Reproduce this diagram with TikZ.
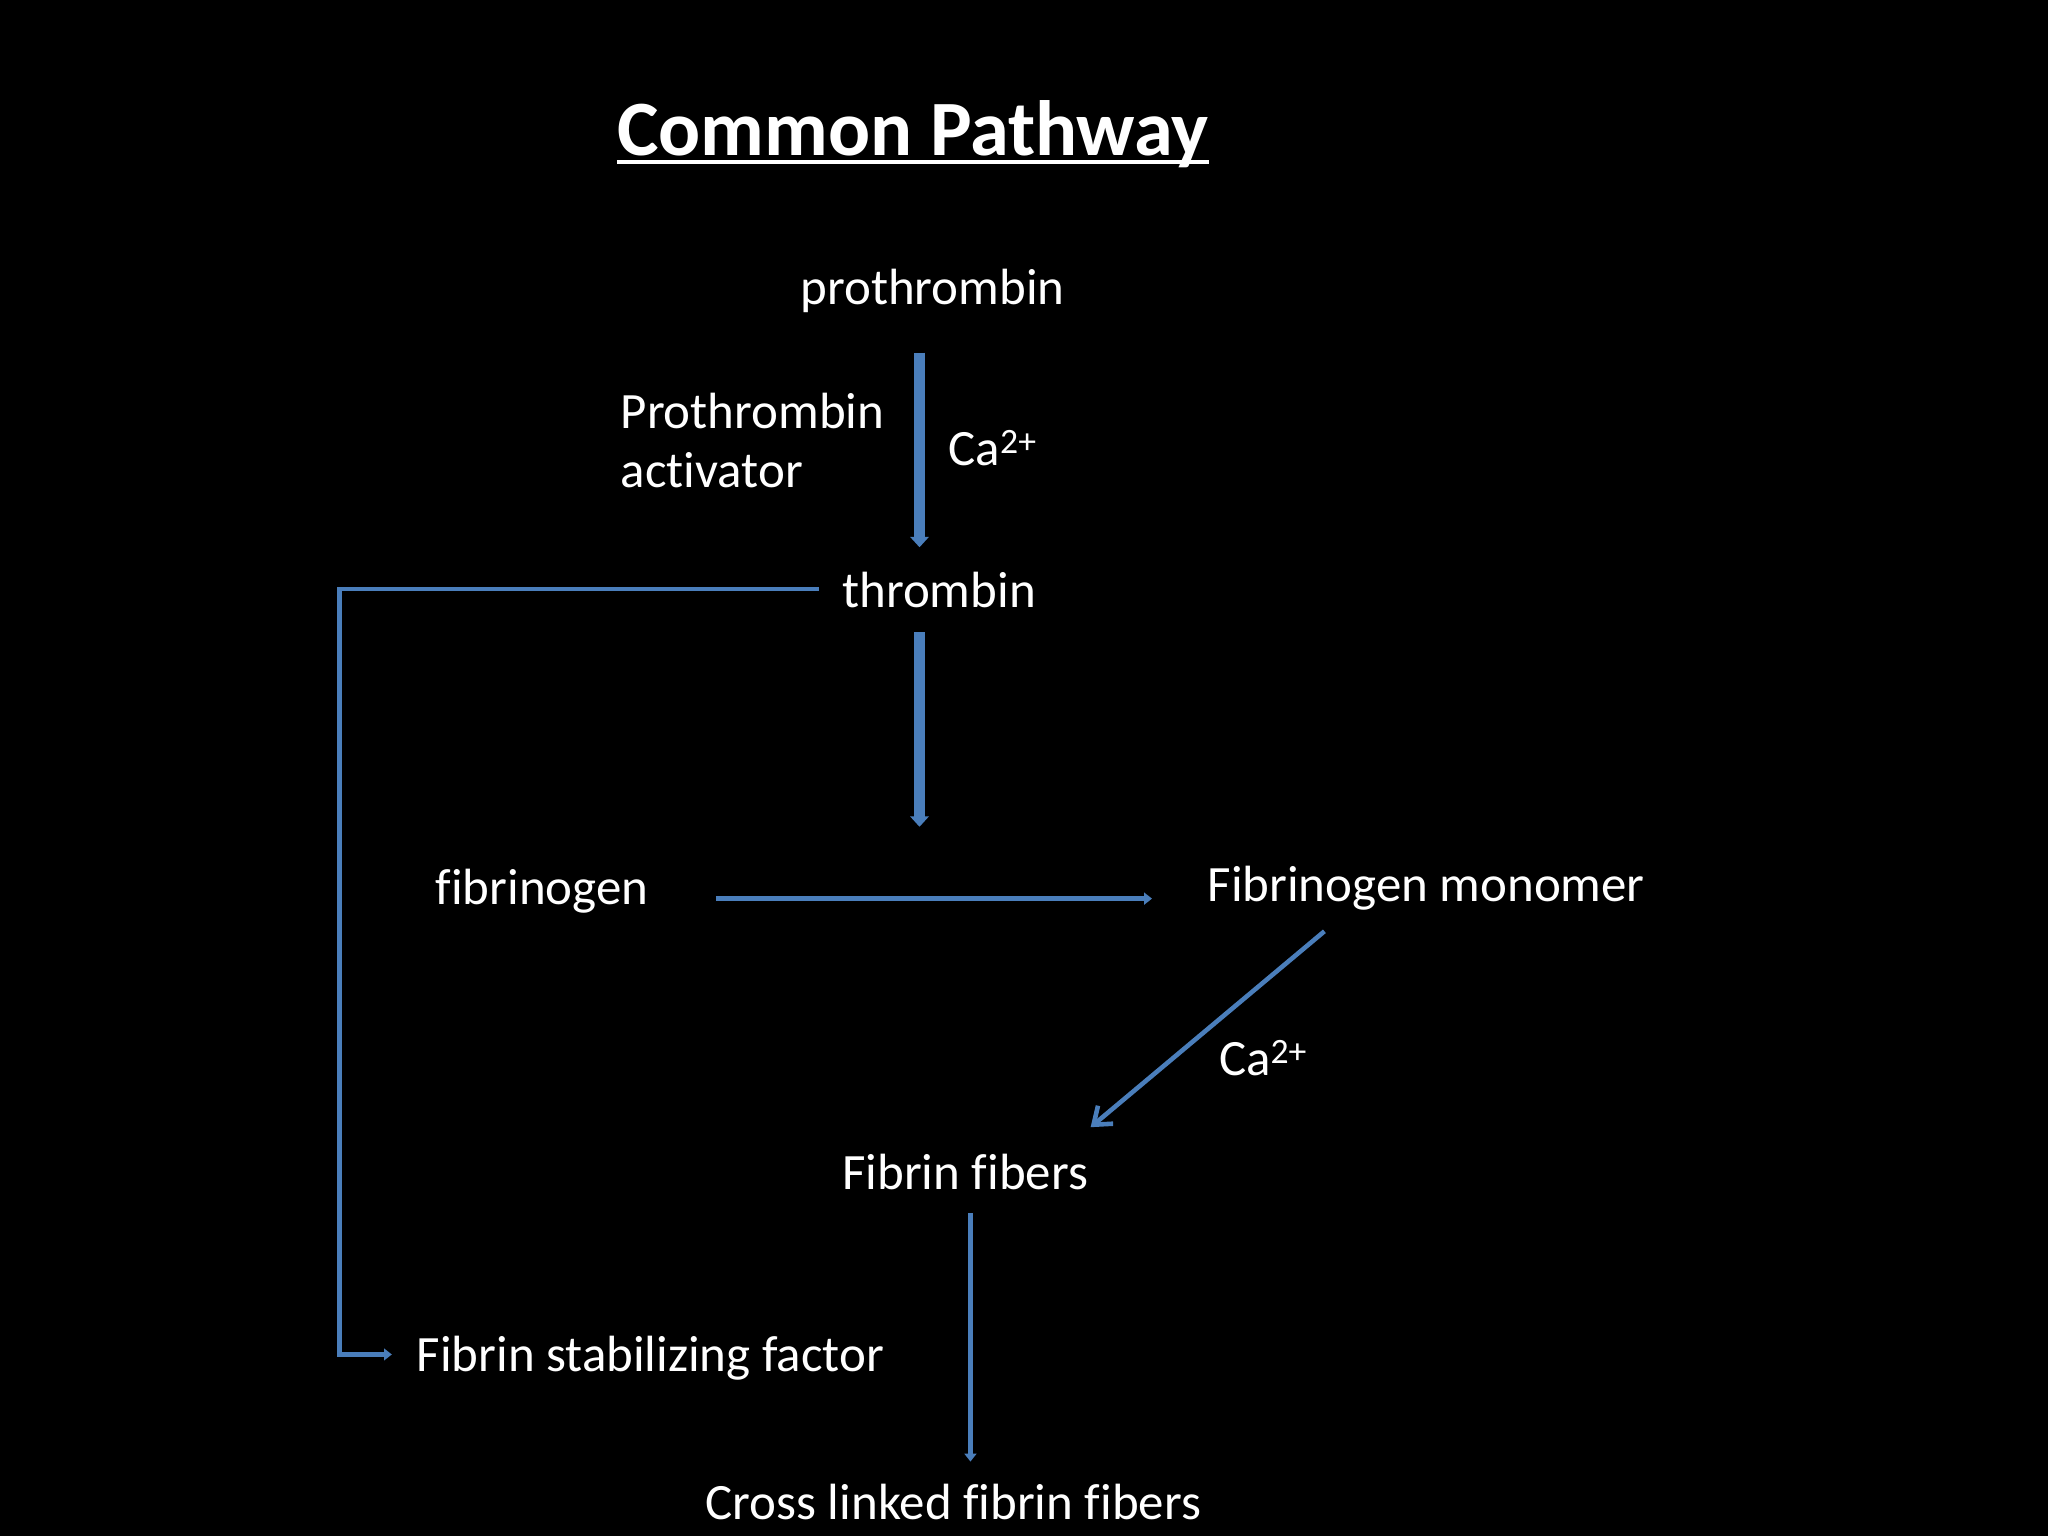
\documentclass[tikz,border=0pt]{standalone}
\usepackage{fontspec}
\setmainfont[Ligatures=NoCommon]{Carlito}
\usetikzlibrary{arrows.meta}
\definecolor{ab}{HTML}{4A7EBB}
\begin{document}
\begin{tikzpicture}[x=1pt,y=-1pt,
  lbl/.style={text=white,font=\fontsize{39}{44}\selectfont,inner sep=0pt},
  thin/.style={draw=ab,line width=3.5pt,-{Triangle[length=6pt,width=9pt]}},
  fat/.style={draw=ab,line width=8pt,-{Triangle[length=8pt,width=14pt]}}]
\fill[black] (0,0) rectangle (1568,1176);
\useasboundingbox (0,0) rectangle (1568,1176);
\node[lbl,font=\bfseries\fontsize{60}{68}\selectfont] (title) at (699,103) {Common Pathway};
\draw[white,line width=3pt] (title.base west) ++(0,5) -- ([yshift=-5pt]title.base east);
\node[lbl] (pro) at (714,223) {prothrombin};
\node[lbl,align=left,anchor=west] (pa) at (475,337) {Prothrombin\\[1pt]activator};
\node[lbl] (ca1) at (760,343) {Ca\textsuperscript{2+}};
\node[lbl] (thr) at (719,452) {thrombin};
\node[lbl] (fbg) at (415,682) {fibrinogen};
\node[lbl] (mon) at (1092,680) {Fibrinogen monomer};
\node[lbl] (ca2) at (967,810) {Ca\textsuperscript{2+}};
\node[lbl] (ff) at (739,897) {Fibrin fibers};
\node[lbl] (fsf) at (498,1040) {Fibrin stabilizing factor};
\node[lbl] (cl) at (730,1150) {Cross linked fibrin fibers};
\coordinate (a1) at (704,270); \coordinate (a2) at (704,419);
\coordinate (b1) at (704,484); \coordinate (b2) at (704,633);
\coordinate (t1) at (627,451); \coordinate (fs) at (300,1037);
\coordinate (f1) at (548,688); \coordinate (f2) at (882,688);
\coordinate (d1) at (1014,713); \coordinate (d2) at (835,863);
\coordinate (c1) at (743,929); \coordinate (c2) at (743,1119);
\draw[fat] (a1) -- (a2);
\draw[fat] (b1) -- (b2);
\draw[thin] (t1) -- (260,451) |- (fs);
\draw[thin] (f1) -- (f2);
\draw[thin,-{Straight Barb[length=12pt,width=18pt]}] (d1) -- (d2);
\draw[thin] (c1) -- (c2);
\end{tikzpicture}
\end{document}
